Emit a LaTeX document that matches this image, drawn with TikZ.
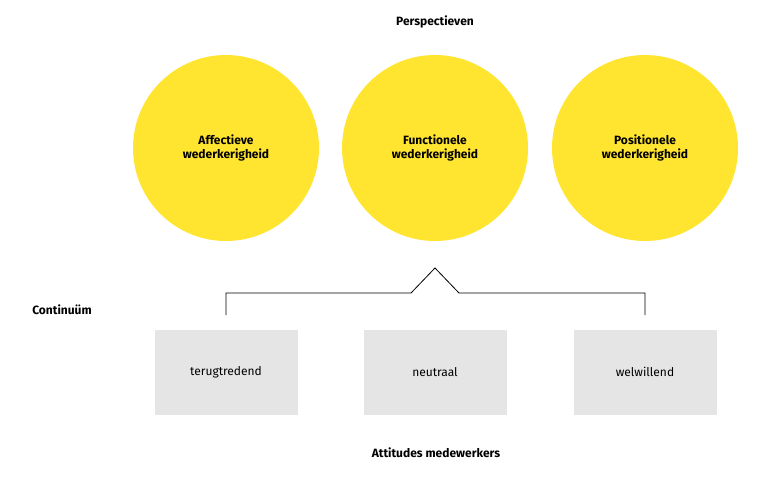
\documentclass[tikz,border=0pt]{standalone}
\usepackage{fontspec}
\setmainfont{Fira Sans}
\definecolor{yel}{HTML}{FFE52F}
\definecolor{gry}{HTML}{E5E5E5}
\begin{document}
\begin{tikzpicture}[x=1pt,y=-1pt,
  circ/.style={circle,fill=yel,minimum size=186pt,inner sep=0pt,align=center,font=\fontsize{12}{14}\selectfont\bfseries},
  gbox/.style={fill=gry,minimum width=143pt,minimum height=85pt,inner sep=0pt,font=\fontsize{12}{14}\selectfont},
  lbl/.style={font=\fontsize{12}{14}\selectfont\bfseries}]
\useasboundingbox (0,0) rectangle (768,480);
\node[lbl] (p) at (435,22) {Perspectieven};
\node[circ] (c1) at (226,148) {Affectieve\\wederkerigheid};
\node[circ] (c2) at (435,148) {Functionele\\wederkerigheid};
\node[circ] (c3) at (645,148) {Positionele\\wederkerigheid};
\node[lbl] (cont) at (62,310) {Continuüm};
\node[gbox] (b1) at (226,372) {terugtredend};
\node[gbox] (b2) at (435,372) {neutraal};
\node[gbox] (b3) at (645,372) {welwillend};
\node[lbl] (att) at (436,453) {Attitudes medewerkers};
\coordinate (l) at (226,315);
\coordinate (r) at (645,315);
\draw[line width=0.8pt] (l) -- (226,293) -- (411,293) -- (435,268) -- (459,293) -- (645,293) -- (r);
\end{tikzpicture}
\end{document}
